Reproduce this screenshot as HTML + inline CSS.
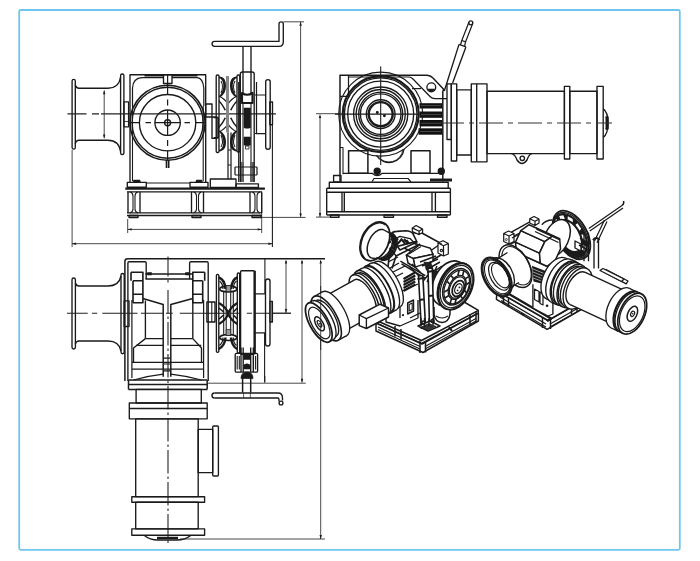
<!DOCTYPE html>
<html><head><meta charset="utf-8"><title>Winch drawing</title>
<style>
html,body{margin:0;padding:0;background:#fff;width:700px;height:561px;overflow:hidden;font-family:"Liberation Sans",sans-serif;}
svg{position:absolute;left:0;top:0;display:block;}
</style></head><body>
<svg width="700" height="561" viewBox="0 0 700 561">
<rect x="19.2" y="10" width="660.6" height="539.8" rx="1.5" fill="none" stroke="#70c6ef" stroke-width="1.8"/>
<g fill="none" stroke="#1a1a1a" stroke-width="1.35" stroke-linejoin="round" stroke-linecap="butt">

<!-- ============ VIEW A : front elevation ============ -->
<g id="A">
<!-- drum -->
<rect x="72.1" y="79.3" width="3.2" height="69.8" rx="1.6"/>
<rect x="120.6" y="74" width="3.3" height="80.5" rx="1.6"/>
<path d="M75.3,84.5 Q76,88.2 79,88.2 L108,88.2 Q119,88 120.6,77"/>
<path d="M75.3,144 Q76,140.2 79,140.2 L108,140.2 Q119,140.4 120.6,151.5"/>
<path d="M104.2,90.5 V138.2" stroke-width="0.80"/>
<rect x="123.9" y="101.9" width="4.7" height="24.9"/>
<path d="M123.9,121.5 H128.6" stroke-width="0.80"/>
<!-- gearbox housing -->
<path d="M130,182 V74.7 H205.7 V182"/>
<path d="M132.5,181 V106 M203.2,181 V106" stroke-width="1.08"/>
<path d="M132.5,106 V88 Q133,78 142,77.6 H163.5 M172,77.6 H197 Q203,78 203.8,88 V106" stroke-width="1.22"/>
<path d="M144.5,75.5 H163.5 M172,75.5 H197.5" stroke-width="2.16"/>
<rect x="163.5" y="74.7" width="8.5" height="8.8"/>
<circle cx="167.6" cy="122.7" r="37.5" stroke-width="1.62"/>
<circle cx="167.6" cy="122.7" r="35.5"/>
<circle cx="167.6" cy="122.7" r="28.2"/>
<circle cx="167.6" cy="122.7" r="12.7"/>
<circle cx="167.6" cy="122.7" r="3"/>
<path d="M130,122.7 H140 M145.5,122.7 H151 M155,122.7 H180.2 M184.5,122.7 H190 M195,122.7 H205.5 M167.6,75 V94.5 M167.6,99.5 V105.5 M167.6,110 V135 M167.6,140 V146 M167.6,150.5 V160" stroke-width="1.22"/>
<path d="M166.5,160 V168 M168.7,160 V168" stroke-width="1.62"/>
<!-- centerline -->
<path d="M67.5,113.9 H86.5 M92,113.9 H99 M101,113.9 H276" stroke="#222" stroke-width="1.08"/>
<!-- hub & flange -->
<rect x="205.7" y="104" width="6.3" height="13"/>
<rect x="212" y="117" width="5" height="21.4"/>
<!-- brake discs -->
<rect x="216.2" y="75" width="2.8" height="77.5" rx="1.2"/>
<rect x="237" y="75" width="2.8" height="77" rx="1.2"/>
<g fill="#1a1a1a" stroke="none">
<path d="M219,76.6 C224,77 226,80 226,86 C226,91 224,95 220,97.5 L219.5,96 C222,93 223.5,89 223.3,85 C223,81 221.5,78.5 219,78 Z"/>
<path d="M237,76.6 C232,77 230,80 230,86 C230,91 232,95 236,97.5 L236.5,96 C234,93 232.5,89 232.7,85 C233,81 234.5,78.5 237,78 Z"/>
<path d="M219,151.4 C224,151 226,148 226,142 C226,137 224,133 220,130.5 L219.5,132 C222,135 223.5,139 223.3,143 C223,147 221.5,149.5 219,150 Z"/>
<path d="M237,151.4 C232,151 230,148 230,142 C230,137 232,133 236,130.5 L236.5,132 C234,135 232.5,139 232.7,143 C233,147 234.5,149.5 237,150 Z"/>
<path d="M219,100 C222,103 224,106 226,110 L224.5,110.5 C223,107 221,104 219,102 Z"/>
<path d="M237,100 C234,103 232,106 230,110 L231.5,110.5 C233,107 235,104 237,102 Z"/>
<path d="M219,128 C222,125 224,122 226,118 L224.5,117.5 C223,121 221,124 219,126 Z"/>
<path d="M237,128 C234,125 232,122 230,118 L231.5,117.5 C233,121 235,124 237,126 Z"/>
</g>
<path d="M219,96 Q225,99 228,104 M237,96 Q231,99 228,104 M219,132 Q225,129 228,124 M237,132 Q231,129 228,124" stroke-width="1.22"/>
<path d="M221,81 Q224,86 221,93 M235,81 Q232,86 235,93 M221,135 Q224,142 221,147 M235,135 Q232,142 235,147" stroke-width="1.08"/>
<path d="M227.5,76 V132.4" stroke="#888" stroke-width="2.97"/>
<path d="M228,132.4 V179.2 M231,132.4 V179.2 M228,150 H231 M228,165 H231" stroke-width="1.22"/>
<path d="M213.7,117.7 H218.4 V137.7 H213.7" stroke-width="1.22"/>
<!-- bracket with shaft -->
<path d="M240.3,182 V74 Q240.3,72 242.5,72 H252 Q254.2,72 254.2,74 V182" />
<path d="M238.7,82 V182 M256.5,82 V133.7 H265.7" stroke-width="1.22"/>
<path d="M243,46 V93 M251,46 V93" />
<path d="M242,93 Q247,96.5 252.5,93 V103 H242 Z" stroke-width="2.16"/>
<path d="M243,103 V162 M251,103 V162" stroke-width="1.08"/>
<path d="M244,108 H250.5 V127.7 Q247,129 244,127.7 Z" fill="#1a1a1a" stroke-width="0.57"/>
<path d="M244,137 H250.5 V145 Q247,146.5 244,145 Z" fill="#1a1a1a" stroke-width="0.57"/>
<rect x="245.5" y="146" width="3.5" height="3" stroke-width="0.80"/>
<path d="M235,167 H257 M235,175 H257 M235,167 V175 M257,167 V175" stroke-width="1.22"/>
<path d="M241,162 V182 M243,162 V182 M251,162 V182 M253,162 V182" stroke-width="1.35"/>
<!-- crank handle -->
<path d="M214.5,41.4 H279 V24 A2.15,2.15 0 0 1 283.3,24 V42 Q283.3,46.3 279,46.3 H214.5 A2.45,2.45 0 0 1 214.5,41.4 Z"/>
<!-- right disc -->
<rect x="265.7" y="79.6" width="4.5" height="69.6" rx="2.2"/>
<rect x="269.8" y="102" width="2.7" height="22.7"/>
<path d="M255,95 H265.7 M255,133.5 H265.7" stroke-width="1.08"/>
<path d="M272.4,125 V247" stroke-width="1.08"/>
<!-- base -->
<path d="M132.5,182.4 L133.5,179.8 H140 L141,182.4 Z M195.3,182.4 L196.3,179.8 H202 L203,182.4 Z" fill="#1a1a1a" stroke="none"/>
<rect x="127.3" y="182.4" width="19" height="4.9"/>
<path d="M146.3,183 H190" stroke-width="1.08"/>
<rect x="190" y="182.4" width="18" height="4.9"/>
<rect x="210.3" y="179" width="25.7" height="8.5"/>
<rect x="236" y="183.8" width="22.4" height="3.7"/>
<path d="M125.3,188.6 H264.9" stroke-width="2.43"/>
<path d="M127,191.8 H262" stroke-width="1.35"/>
<path d="M127,212.9 H262 M127,215.5 H262" stroke-width="1.35"/>
<path d="M128,191.8 V212.9 M140,191.8 V212.9 M191.5,191.8 V212.9 M203.5,191.8 V212.9 M250,191.8 V212.9 M261.7,191.8 V212.9" stroke-width="1.35"/>
<path d="M130,191.8 Q133,193 133,196 V209 Q133,212 130,212.9 M138,191.8 Q135,193 135,196 V209 Q135,212 138,212.9" stroke-width="1.08"/>
<path d="M193.5,191.8 Q196.5,193 196.5,196 V209 Q196.5,212 193.5,212.9 M201.5,191.8 Q198.5,193 198.5,196 V209 Q198.5,212 201.5,212.9" stroke-width="1.08"/>
<path d="M252,191.8 Q255,193 255,196 V209 Q255,212 252,212.9 M260,191.8 Q257,193 257,196 V209 Q257,212 260,212.9" stroke-width="1.08"/>
<rect x="129" y="215.5" width="9" height="2"/><rect x="192" y="215.5" width="9" height="2"/><rect x="252" y="215.5" width="9" height="2"/>
<!-- dims -->
<g stroke-width="0.80">
<path d="M72.1,150 V247"/>
<path d="M127.7,219 V233"/>
<path d="M261.7,193 V233"/>
<path d="M127.7,229.4 H261.7"/>
<path d="M72.1,243.7 H272.4"/>
<path d="M283.3,21.8 H304"/>
<path d="M300.6,21.8 V216.5"/>
<path d="M252,217.4 H305.5"/>
</g>
<g fill="#1a1a1a" stroke="none">
<path d="M127.7,229.4 l4,-1.2 v2.4z M261.7,229.4 l-4,-1.2 v2.4z"/>
<path d="M72.1,243.7 l4,-1.2 v2.4z M272.4,243.7 l-4,-1.2 v2.4z"/>
<path d="M300.6,21.8 l-1.2,4 h2.4z M300.6,217.4 l-1.2,-4 h2.4z"/>
<path d="M104.2,90.3 l-1.2,4 h2.4z M104.2,138.4 l-1.2,-4 h2.4z"/>
</g>
</g>

<!-- ============ VIEW B : side elevation ============ -->
<g id="B">
<!-- housing -->
<path d="M340,181 V75.2 H427 Q430.5,75.2 433,78 L443.6,89.2 L442.8,91.4 V181.2" stroke-width="1.49"/>
<path d="M348.5,75.2 V96.3 H340" stroke-width="1.22"/>
<path d="M348.5,77 H409 Q411,77 413,79 L430,96.5 Q432,98.7 435,98.7 H447" stroke-width="1.22"/>
<path d="M412,88.6 H421" stroke-width="1.22"/>
<circle cx="431.3" cy="87.3" r="4.4"/>
<path d="M427.3,88.8 A4.4,4.4 0 0 0 435.3,88.8 Z" fill="#1a1a1a" stroke="none"/>
<!-- concentric circles -->
<circle cx="380.7" cy="114.1" r="42" stroke-width="1.08"/>
<circle cx="380.7" cy="114.1" r="38" stroke-width="2.16"/>
<circle cx="380.7" cy="114.1" r="36.3"/>
<circle cx="380.7" cy="114.1" r="33"/>
<circle cx="380.7" cy="114.1" r="27.1"/>
<circle cx="380.7" cy="114.1" r="24.6"/>
<circle cx="380.7" cy="114.1" r="22"/>
<circle cx="380.7" cy="114.1" r="20.3"/>
<circle cx="380.7" cy="114.1" r="14.4"/>
<circle cx="380.7" cy="114.1" r="12" stroke-width="2.43"/>
<circle cx="377.3" cy="112.4" r="0.8" fill="#1a1a1a"/>
<circle cx="384.4" cy="115.8" r="0.8" fill="#1a1a1a"/>
<path d="M380.7,66.5 V165 M335,114.1 H418" stroke-width="1.08"/>
<!-- fins -->
<g fill="#111" stroke="none">
<rect x="419.5" y="103.2" width="22.5" height="5.3"/>
<rect x="419.5" y="111.5" width="22.5" height="6.3"/>
<rect x="419.5" y="120" width="22.5" height="6.4"/>
<rect x="418.5" y="128.3" width="23.5" height="6.4"/>
</g>
<path d="M421,105.6 H441 M421,114.6 H441 M421,123.2 H441 M420,131.5 H441" stroke="#555" stroke-width="0.80"/>
<!-- lower housing -->
<path d="M340,147.5 H343 V174.3" stroke-width="1.08"/>
<rect x="348.6" y="150.7" width="19.3" height="22.5" stroke-width="1.49"/>
<rect x="411" y="150.7" width="19" height="22.5" stroke-width="1.49"/>
<path d="M376.4,155.5 A15,15 0 0 0 404,149" stroke-width="1.35"/>
<path d="M377.6,155.9 A13.8,13.8 0 0 0 402.8,149.3" stroke-width="0.80"/>
<circle cx="377.2" cy="171.2" r="3" fill="#1a1a1a"/>
<circle cx="441.3" cy="171.2" r="3" fill="#1a1a1a"/>
<path d="M343,173.4 H372.5 Q377.2,177.5 382,173.4 H442.8" stroke-width="1.35"/>
<path d="M372,181.8 L374,178.5 H408 L411,181.8" stroke-width="1.22"/>
<rect x="333.6" y="175.5" width="7.4" height="6.3"/>
<path d="M430,180 H452" stroke-width="2.97"/>
<!-- base -->
<path d="M329.3,188.2 V182.2 H448.2 V188.2" stroke-width="1.35"/>
<path d="M326.7,188.2 H450.4 M326.7,192.3 H450.4 M326.7,211.8 H450.4 M326.7,215 H450.4" stroke-width="1.49"/>
<path d="M326.7,188.2 V215 M450.4,188.2 V215" stroke-width="1.35"/>
<path d="M342,192.3 V211.8 M344.3,192.3 V211.8 M432,192.3 V211.8 M435.4,192.3 V211.8" stroke-width="1.35"/>
<rect x="330.5" y="215" width="8.5" height="2.2"/>
<rect x="384" y="215" width="9.5" height="2.2"/>
<rect x="437.5" y="215" width="9.5" height="2.2"/>
<!-- motor -->
<rect x="447" y="83.9" width="4.3" height="55.6"/>
<rect x="451.3" y="83.9" width="5.4" height="77.1"/>
<rect x="456.7" y="89.9" width="14.6" height="65.1"/>
<rect x="471.3" y="83.9" width="15.7" height="77.9"/>
<path d="M476.7,83.9 V161.8"/>
<rect x="487" y="91.2" width="77.4" height="62.4"/>
<rect x="564.4" y="86.3" width="5.4" height="72.7"/>
<rect x="569.8" y="91.2" width="27.2" height="62.4"/>
<rect x="597" y="86.3" width="6.2" height="72.7"/>
<path d="M603.2,108.9 Q608,112 608,123 Q608,134 603.2,137.4" />
<path d="M605.5,117 H608 V129 H605.5" fill="#1a1a1a"/>
<path d="M511.4,153.6 Q515,154 517,160 Q522,167 527,160 Q529,154 531.8,153.6"/>
<circle cx="522.3" cy="158.3" r="2.2"/>
<path d="M440,123 H612" stroke-dasharray="24,5,5,5" stroke="#333" stroke-width="1.08"/>
<!-- lever -->
<path d="M444.3,91 L459,44.4 M452.6,83.1 L465.9,46.9 M459,44.4 L465.9,46.9" stroke-width="1.35"/>
<path d="M460.5,44.8 L461.8,40.5 L465.6,41.8 L464.6,46" stroke-width="1.22"/>
<path d="M461.8,40.5 L468.8,22.5 M465.6,41.8 L472.6,23.8" stroke-width="1.22"/>
<circle cx="470.8" cy="22.8" r="2"/>
<!-- dims -->
<g stroke-width="0.80">
<path d="M320,116 V217"/>
<path d="M316,113.7 H340"/>
<path d="M316,217.1 H330"/>
</g>
<g fill="#1a1a1a" stroke="none">
<path d="M320,113.9 l-1.2,4 h2.4z M320,217 l-1.2,-4 h2.4z"/>
</g>
</g>

<!-- ============ VIEW C : plan ============ -->
<g id="C">
<!-- drum -->
<rect x="72" y="278" width="3.4" height="71" rx="1.7"/>
<rect x="121" y="273.5" width="3.2" height="80.2" rx="1.6"/>
<path d="M75.4,283 Q76,286 79,286 L108,286 Q119,286 121,276"/>
<path d="M75.4,344 Q76,341 79,341 L108,341 Q119,341 121,351"/>
<rect x="124.2" y="300.8" width="4.8" height="25.7"/>
<!-- frame outer -->
<path d="M124.9,381 V261.5 Q124.9,258.8 127.6,258.8 H325" stroke-width="1.49"/>
<path d="M127.9,381 V263 Q127.9,261.7 129.2,261.7 H145 Q146.2,261.7 146.2,263 V279" stroke-width="1.35"/>
<path d="M208.2,381 V263 Q208.2,261.7 206.9,261.7 H190.9 Q189.6,261.7 189.6,263 V279" stroke-width="1.35"/>
<path d="M145.4,274 H192.8 M145.4,279 H192.8" stroke-width="1.35"/>
<rect x="147.5" y="272.5" width="4" height="2.5" fill="#1a1a1a" stroke-width="0.57"/>
<rect x="185.5" y="272.5" width="4" height="2.5" fill="#1a1a1a" stroke-width="0.57"/>
<!-- side blocks -->
<path d="M131,272.3 H142.9 V302.8 H133 M133,280.8 H142.9 M133,294.3 H142.9 M133,295.2 V302.8 M131,272.3 V280.8 M133,280.8 V302.8" stroke-width="1.62"/>
<path d="M204.7,272.3 H192.8 V302.8 H202.7 M202.7,280.8 H192.8 M202.7,294.3 H192.8 M202.7,280.8 V302.8 M204.7,272.3 V280.8" stroke-width="1.62"/>
<path d="M131.9,300 V378" stroke-width="1.22"/>
<path d="M203.6,300 V378" stroke-width="1.22"/>
<!-- funnel and shaft -->
<path d="M142.9,298.5 L163.2,304.5 V376.7 M192.8,298.5 L170.8,304.5 V376.7" stroke-width="1.49"/>
<path d="M145.4,300.5 V338.6 M192.8,300.5 V338.6" stroke-width="1.35"/>
<path d="M163.2,358.1 H170.8 M163.2,364 H170.8 M163.2,370.8 H170.8" stroke-width="1.22"/>
<path d="M145.4,338.6 H163.2 M170.8,338.6 H192.8" stroke-width="1.35"/>
<path d="M145.4,338.6 L133.5,348 V362.3 M192.8,338.6 L201.5,348 V362.3" stroke-width="1.35"/>
<path d="M136.1,345.4 H163.2 M170.8,345.4 H201.3" stroke-width="1.22"/>
<path d="M132,362.3 H204 M132,369.1 H204" stroke-width="1.22"/>
<path d="M133.5,380 Q148,376 163.2,374.2 M170.8,374.2 Q186,376 201.5,380" stroke-width="1.22"/>
<path d="M128.5,380.1 H207.2 M128.5,384.4 H207.2 M128.5,389.4 H207.2 M128.5,380.1 V389.4 M207.2,380.1 V389.4" stroke-width="1.49"/>
<path d="M168,256.5 V276.4 M168,280 V282.5" stroke="#222" stroke-width="1.08"/><path d="M168,290 V544" stroke-dasharray="23.6,3,2.4,3" stroke="#222" stroke-width="1.08"/>
<path d="M67,313.2 H87.7 M92,313.2 H97.2 M102.3,313.2 H137.5 M141,313.2 H163.2 M166,313.2 H172.7 M179.8,313.2 H241 M246.8,313.2 H252 M254,313.2 H291" stroke="#222" stroke-width="1.08"/>
<!-- right hub + sheaves -->
<rect x="206.9" y="302" width="8.1" height="20"/>
<path d="M211.8,302 V322" stroke-width="1.08"/>
<rect x="216.4" y="274.4" width="2.4" height="78" rx="1.1"/>
<rect x="237.3" y="273" width="2.4" height="80" rx="1.1"/>
<path d="M218.8,277.5 C223,279 225,283 225.5,289 M237.3,277.5 C233,279 231.5,283 231,289 M218.8,349 C223,347 225,343 225.5,337.5 M237.3,349 C233,347 231.5,343 231,337.5" stroke-width="2.43"/>
<path d="M219.5,281 C222,283 223,286 223,289 M236.5,281 C234,283 233.3,286 233.3,289 M219.5,345.5 C222,343.5 223,340.5 223,337.5 M236.5,345.5 C234,343.5 233.3,340.5 233.3,337.5" stroke-width="1.22"/>
<ellipse cx="228.3" cy="289" rx="8.6" ry="3" stroke-width="1.62"/>
<ellipse cx="228.3" cy="337.5" rx="8.6" ry="3" stroke-width="1.62"/>
<path d="M223.7,292 V334.5 M233.3,292 V334.5" stroke-width="1.08"/>
<path d="M219,303 C224,306 227,309 228.3,313.5 C227,318 224,321 219,324 M237.3,303 C232.5,306 229.5,309 228.3,313.5 C229.5,318 232.5,321 237.3,324" stroke-width="2.16"/>
<path d="M219,308 L223.7,312 M219,319 L223.7,315 M237.3,308 L233.3,312 M237.3,319 L233.3,315" stroke-width="1.62"/>
<rect x="226.2" y="285.5" width="4.5" height="50" stroke-width="1.08"/>
<rect x="226.2" y="285.5" width="4.5" height="6" fill="#999" stroke-width="0.69"/>
<rect x="226.2" y="329.5" width="4.5" height="6" fill="#999" stroke-width="0.69"/>
<rect x="240.6" y="270.7" width="13.7" height="83.5" rx="1"/>
<path d="M254.8,270.7 V354.2" stroke-width="2.16"/>
<path d="M255,293.8 H264.9 M255,332.8 H264.9" stroke-width="1.22"/>
<path d="M264.9,258.8 V293.8 M264.6,332.8 V382.4" stroke-width="1.08"/>
<rect x="265.5" y="279" width="4.5" height="67" rx="2.2"/>
<rect x="270" y="301.3" width="2.4" height="20.7" fill="#999"/>
<!-- lower bracket -->
<rect x="235.2" y="353.4" width="22.4" height="18.7" rx="1.2"/>
<path d="M237.2,356 V369.5 M239.3,356 V369.5 M253.5,356 V369.5 M255.6,356 V369.5" stroke-width="1.08"/>
<path d="M241,347.5 V372 M243.2,347.5 V372 M250.7,347.5 V372 M253.3,347.5 V372" stroke-width="1.35"/>
<path d="M243.7,355 H250.2 V359.5 H243.7 Z" fill="#1a1a1a" stroke-width="0.57"/>
<path d="M243.7,365 Q247,362.5 250.2,365 V369 H243.7 Z" fill="#1a1a1a" stroke-width="0.57"/>
<path d="M241,378.5 Q241,372 247,372 Q253,372 253,378.5 Z" fill="#1a1a1a" stroke-width="0.69"/>
<path d="M242.6,376 V392.5 M250.7,376 V392.5" stroke-width="1.49"/>
<!-- handle -->
<path d="M214.5,393 H278 Q282.5,393 282.5,398 V400.5 M214.5,398 H278 Q279,398 279,400.5 V401.5" stroke-width="1.35"/>
<path d="M214.5,393 A2.5,2.5 0 0 0 214.5,398"/>
<circle cx="281" cy="403" r="1.9"/>
<path d="M243.6,393 V398 M250.3,393 V398" stroke-width="0.69"/>
<!-- motor -->
<rect x="136.1" y="389.4" width="65.2" height="13.6"/>
<rect x="129.3" y="403" width="77.9" height="15.8"/>
<path d="M129.3,408.5 H207.2"/>
<rect x="135.7" y="418.8" width="62.5" height="77.9"/>
<rect x="198.2" y="429.4" width="14.5" height="43.3"/>
<rect x="212.7" y="426" width="5.7" height="50" rx="1"/>
<rect x="131.8" y="496.7" width="72.8" height="5.5"/>
<rect x="135.7" y="502.2" width="62.5" height="26.6"/>
<rect x="131.8" y="528.8" width="72.8" height="6.4"/>
<path d="M144,535.2 Q150,540 158,540 H177 Q185,540 191,535.2" />
<path d="M157,538 H178" stroke-width="2.43"/>
<!-- dims -->
<g stroke-width="0.80">
<path d="M286,261 V313"/>
<path d="M272,313.2 H291"/>
<path d="M302,261 V382.4"/>
<path d="M207.4,383.2 H305.8"/>
<path d="M320.7,261 V539"/>
<path d="M180,539 H325"/>
<path d="M264.9,382.4 V376" />
</g>
<g fill="#1a1a1a" stroke="none">
<path d="M286,259.6 l-1.2,4 h2.4z M286,313 l-1.2,-4 h2.4z"/>
<path d="M302,259.6 l-1.2,4 h2.4z M302,382.8 l-1.2,-4 h2.4z"/>
<path d="M320.7,259.6 l-1.2,4 h2.4z M320.7,539 l-1.2,-4 h2.4z"/>
</g>
</g>

<!--ISO1-->
<path d="M376,323 L422,344 L478.4,313 L478.4,321 L423,352.5 L376,331 Z" fill="#fff" stroke-width="1.49"/>
<path d="M372,318.5 L421.5,340.5 L478.4,310.4 L465,302.5 L430,290 Z" fill="#fff" stroke-width="1.49"/>
<path d="M372,318.5 V321 L421.5,343.2 L478.4,313 V310.4" fill="none" stroke-width="1.22"/>
<path d="M378,327 L420,346.5 M378,329.5 L420,349 M425,346.5 L476,318.5 M425,349 L476,321" stroke-width="1.08"/>
<path d="M395,326 V336.5 M401,329 V339.5 M420,340.5 V353 M425.5,342 V352.5 M470,314 V325 M476,311 V322" stroke-width="1.49"/>
<path d="M449,327 L452,331" stroke-width="2.03"/>
<path d="M386,322 V262 L392.7,232.6 L412.2,226.2 L421.5,229.9 L446.6,244.7 L448.4,255 L447,300 L425,318 L400,325 Z" fill="#fff" stroke="none"/>
<path d="M404,238.5 L412.5,233 L421,232.5 L441,243.5 L431,250.5 Z" fill="#fff" stroke-width="1.49"/>
<path d="M404,238.5 V248 L431,261 V250.5 M431,261 L441,255 V243.5" fill="#fff" stroke-width="1.49"/>
<path d="M407,240 L430,251.5" stroke-width="1.08"/>
<path d="M412.3,227.9 L416.1,225.5 L422.6,229.1 V232.5 L419.1,234.6 L412.3,231.5 Z M412.3,227.9 L419.1,231.3 L422.6,229.1 M419.1,231.3 V234.6" stroke-width="1.22" fill="#fff"/>
<path d="M438,243 L443,240.7 L448.3,243.5 V254 L443.5,256 L438,253 Z M438,243 L443.5,245.8 L448.3,243.5 M443.5,245.8 V256" stroke-width="1.22" fill="#fff"/>
<circle cx="441.4" cy="250.6" r="1.2" stroke-width="1.08"/>
<path d="M406.4,255.1 L419.3,244.9 L430.4,248.3 L433,254.3 L413.3,258.6 Z" fill="#fff" stroke-width="1.49"/>
<path d="M413.3,258.6 L415,267.1 L433,261.1 V254.3 Z" fill="#fff" stroke-width="1.49"/>
<path d="M406.4,255.1 L408,263 L415,267.1 L413.3,258.6 Z" fill="#fff" stroke-width="1.49"/>
<path d="M409,254 L421,246.5" stroke-width="1.08"/>
<path d="M403.5,279 L415,272.5 M403.5,282 L415.3,275.5 M403.5,285 L415.3,278.5 M403.5,288 L415.3,281.5 M403.5,291 L415.3,284.5" stroke-width="2.03"/>
<path d="M420,262 L436,256 M422,266 L438,259 M426,270 L440,262 M429,275 L442,266 M431,279 L437,266 M427,282 L434,270 M420,285 L428,275" stroke-width="1.49"/>
<path d="M424,262 L431,263 L433,270 L426,269 Z M434,270 L440,272 L438,280 L432,278 Z" fill="#222" stroke-width="0.69"/>
<path d="M386,290 V322 L400,326 L418,318 V300" fill="#fff" stroke-width="1.35"/>
<path d="M407.7,303 L413.5,300 V311 L407.7,314 Z" stroke-width="1.49"/>
<path d="M409.2,304.5 L412.2,303 V309.5 L409.2,311 Z" stroke-width="1.08"/>
<path d="M400,296 V318 M402,291 L418,284" stroke-width="1.35"/>
<circle cx="403" cy="315.2" r="1.1" fill="#1a1a1a" stroke="none"/>
<path d="M410,318 L420,313" stroke-width="1.35"/>
<path d="M434,307 V314 Q435,322 442,322.5 Q449,322 450,314 V309" fill="#fff" stroke-width="1.49"/>
<path d="M436,316 Q442,320 448,316" stroke-width="1.08"/>
<ellipse cx="448.7" cy="283.1" rx="15.0" ry="23.5" transform="rotate(205 448.7 283.1)" fill="#fff" stroke-width="1.62" />
<path d="M464.8,264.7 L458.7,261.8 L438.8,304.4 L445.0,307.3 Z" fill="#fff" stroke="none"/>
<path d="M464.8,264.7 L458.7,261.8 M438.8,304.4 L445.0,307.3" stroke-width="1.62"/>
<ellipse cx="454.9" cy="286.0" rx="15.0" ry="23.5" transform="rotate(205 454.9 286.0)" fill="#fff" stroke-width="1.49" />
<ellipse cx="454.9" cy="286.0" rx="15.7" ry="24.5" transform="rotate(205 454.9 286.0)" fill="#fff" stroke-width="1.62" />
<path d="M466.4,264.3 L465.3,263.8 L444.6,308.2 L445.6,308.7 Z" fill="#fff" stroke="none"/>
<path d="M466.4,264.3 L465.3,263.8 M444.6,308.2 L445.6,308.7" stroke-width="1.62"/>
<ellipse cx="456.0" cy="286.5" rx="15.7" ry="24.5" transform="rotate(205 456.0 286.5)" fill="#fff" stroke-width="1.89" />
<ellipse cx="456.2" cy="286.6" rx="14.3" ry="22.3" transform="rotate(25 456.2 286.6)" stroke-width="1.22" fill="none"/>
<ellipse cx="456.5" cy="286.8" rx="12.4" ry="19.3" transform="rotate(25 456.5 286.8)" stroke-width="1.49" fill="none"/>
<ellipse cx="456.7" cy="287.0" rx="11.4" ry="17.8" transform="rotate(25 456.7 287.0)" stroke-width="1.22" fill="none"/>
<ellipse cx="457.2" cy="287.4" rx="8.1" ry="12.6" transform="rotate(25 457.2 287.4)" stroke-width="1.35" fill="none"/>
<ellipse cx="457.4" cy="287.5" rx="7.2" ry="11.3" transform="rotate(25 457.4 287.5)" stroke-width="1.22" fill="none"/>
<path d="M464.4,290.4 L466.8,293.0 M462.9,298.7 L460.5,296.0" stroke-width="1.62"/>
<path d="M456.2,298.7 L454.9,303.8 M450.1,303.6 L451.5,298.6" stroke-width="1.62"/>
<path d="M448.8,295.5 L445.0,298.0 M444.2,292.1 L448.0,289.7" stroke-width="1.62"/>
<path d="M449.6,284.0 L447.2,281.4 M451.1,275.7 L453.5,278.4" stroke-width="1.62"/>
<path d="M457.8,275.7 L459.1,270.6 M463.9,270.8 L462.5,275.8" stroke-width="1.62"/>
<path d="M465.2,278.9 L469.0,276.4 M469.8,282.3 L466.0,284.7" stroke-width="1.62"/>
<ellipse cx="458.2" cy="288.5" rx="5.4" ry="8.4" transform="rotate(25 458.2 288.5)" stroke-width="1.76" fill="#fff"/>
<ellipse cx="458.4" cy="288.7" rx="3.3" ry="5.2" transform="rotate(25 458.4 288.7)" stroke-width="1.35" fill="none"/>
<circle cx="459.4" cy="287.4" r="0.9" fill="#1a1a1a" stroke="none"/><circle cx="457.6" cy="290.4" r="0.9" fill="#1a1a1a" stroke="none"/>
<path d="M377,226 L396,231 L400,258 L385,264 Z" fill="#fff" stroke="none"/>
<path d="M390.7,235 Q392,231.4 397,231.4 L405.7,230.7 Q411,231 412.9,233.6 L417,242 L400,250 L392.9,240 Z" fill="#fff" stroke-width="1.62"/>
<path d="M392.9,240 L400,236.4 L410,238.6 L415,243.6" stroke-width="1.35"/>
<path d="M394,243 L398,238.5 M397,244.5 L402,239 M401,238.5 L405,244 M404,239 L408,244 M406.5,240 L409,243.5" stroke-width="2.03"/>
<ellipse cx="374.9" cy="241.4" rx="13.5" ry="20.4" transform="rotate(25 374.9 241.4)" fill="#fff" stroke-width="1.76" />
<path d="M364.8,257.9 L363.6,256.7 L362.6,255.2 L361.8,253.4 L361.2,251.5 L360.9,249.4 L360.8,247.2 L361.0,244.8 L361.4,242.4 L362.0,240.0 L362.8,237.6 L363.9,235.3 L365.1,233.1 L366.5,231.0 L368.0,229.1 L369.7,227.4 L371.4,226.0 L373.3,224.8 L375.1,223.9 L376.9,223.3 L378.7,223.0 L380.5,223.0 L382.1,223.3 L383.6,224.0 L385.0,224.9" fill="none" stroke-width="1.22" />
<path d="M371.4,258.0 L370.4,257.4 L369.5,256.6 L368.7,255.6 L368.1,254.4 L367.6,253.0 L367.3,251.5 L367.2,249.9 L367.2,248.2 L367.4,246.4 L367.8,244.6 L368.3,242.8 L369.0,241.0 L369.8,239.2 L370.7,237.5 L371.8,235.9 L372.9,234.5 L374.1,233.2 L375.4,232.0 L376.8,231.1 L378.1,230.3 L379.5,229.8 L380.8,229.5 L382.1,229.4 L383.3,229.5" fill="none" stroke-width="1.49" />
<path d="M388.1,232.2 L389.2,232.7 L390.1,233.5 L390.9,234.5 L391.6,235.7 L392.1,237.0 L392.4,238.5 L392.6,240.1 L392.5,241.8 L392.3,243.5 L391.9,245.3 L391.4,247.1 L390.7,248.8 L389.8,250.5 L388.8,252.0 L387.7,253.5 L386.5,254.7 L385.2,255.9 L383.9,256.8 L382.6,257.5 L381.2,258.0 L379.9,258.2 L378.6,258.2 L377.4,258.0 L376.3,257.5" fill="none" stroke-width="1.62" />
<path d="M389.2,232.7 L390.3,233.2 L391.2,234.0 L392.0,235.0 L392.7,236.2 L393.2,237.5 L393.5,239.0 L393.7,240.6 L393.6,242.3 L393.4,244.0 L393.0,245.8 L392.5,247.6 L391.8,249.3 L390.9,251.0 L389.9,252.5 L388.8,254.0 L387.6,255.2 L386.3,256.4 L385.0,257.3 L383.7,258.0 L382.3,258.5 L381.0,258.7 L379.7,258.7 L378.5,258.5 L377.4,258.0" fill="none" stroke-width="1.35" />
<path d="M390.3,233.2 L391.4,233.7 L392.3,234.5 L393.1,235.5 L393.8,236.7 L394.3,238.0 L394.6,239.5 L394.8,241.1 L394.7,242.8 L394.5,244.5 L394.1,246.3 L393.6,248.1 L392.9,249.8 L392.0,251.5 L391.0,253.0 L389.9,254.5 L388.7,255.7 L387.4,256.9 L386.1,257.8 L384.8,258.5 L383.4,259.0 L382.1,259.2 L380.8,259.2 L379.6,259.0 L378.5,258.5" fill="none" stroke-width="1.62" />
<path d="M391.4,233.7 L392.5,234.2 L393.4,235.0 L394.2,236.0 L394.9,237.2 L395.4,238.5 L395.7,240.0 L395.9,241.6 L395.8,243.3 L395.6,245.0 L395.2,246.8 L394.7,248.6 L394.0,250.3 L393.1,252.0 L392.1,253.5 L391.0,255.0 L389.8,256.2 L388.5,257.4 L387.2,258.3 L385.9,259.0 L384.5,259.5 L383.2,259.7 L381.9,259.7 L380.7,259.5 L379.6,259.0" fill="none" stroke-width="1.35" />
<path d="M392.5,234.2 L393.6,234.7 L394.5,235.5 L395.3,236.5 L396.0,237.7 L396.5,239.0 L396.8,240.5 L397.0,242.1 L396.9,243.8 L396.7,245.5 L396.3,247.3 L395.8,249.1 L395.1,250.8 L394.2,252.5 L393.2,254.0 L392.1,255.5 L390.9,256.7 L389.6,257.9 L388.3,258.8 L387.0,259.5 L385.6,260.0 L384.3,260.2 L383.0,260.2 L381.8,260.0 L380.7,259.5" fill="none" stroke-width="1.76" />
<path d="M383,229.5 L388.4,232.3 M371.4,258 L377,258.6" stroke-width="1.35"/>
<path d="M389,236.5 L394,234 M390.5,240 L395,237.5 M388,243 L391,241.5" stroke-width="2.03"/>
<path d="M388,267 L390.1,248.3 L416.7,241.4 M392,268.5 L396.1,256 L420.1,244" stroke-width="1.62"/>
<path d="M390.1,248.3 L396.1,256" stroke-width="1.35"/>
<path d="M400.4,261.1 L425.3,275.7 M401.5,263.8 L425.5,278.3" stroke-width="1.49"/>
<path d="M388,262 L398,257 M386.5,270 L399,263 M393,272 L405,266 M395,277 L403,273" stroke-width="1.35"/>
<path d="M418.5,276 L422.8,275.3 L425.6,327.5 L421.3,328.2 Z" fill="#fff" stroke-width="1.62"/>
<path d="M428,268.5 L432.3,268 L433.8,325 L429.5,325.5 Z" fill="#fff" stroke-width="1.62"/>
<path d="M417.5,279 L423.5,278 M427,272 L433,271 M419.5,300 L424,299.3 M428.8,296 L433,295.5" stroke-width="2.16"/>
<path d="M409,266 L419,276 M412,264 L421,273" stroke-width="1.49"/>
<path d="M418,326 L430,321 L440,326 L428,331 Z" fill="#fff" stroke-width="1.49"/>
<path d="M421,327 L429,323.5 L436,326.5 L428,330 Z" fill="#333" stroke-width="0.69"/>
<circle cx="423.5" cy="322.5" r="1.5" stroke-width="1.35"/><circle cx="432.5" cy="321" r="1.5" stroke-width="1.35"/>
<path d="M421,318 V326 M424.5,318 V327 M429,318 V326 M433,318 V325" stroke-width="1.35"/>
<ellipse cx="387.9" cy="284.2" rx="10.7" ry="25.5" transform="rotate(-29 387.9 284.2)" fill="#fff" stroke-width="1.35" />
<path d="M395.9,308.9 L400.3,306.5 L375.5,261.9 L371.2,264.3 Z" fill="#fff" stroke="none"/>
<path d="M395.9,308.9 L400.3,306.5 M375.5,261.9 L371.2,264.3" stroke-width="1.35"/>
<ellipse cx="383.5" cy="286.6" rx="10.7" ry="25.5" transform="rotate(-29 383.5 286.6)" fill="#fff" stroke-width="1.35" />
<ellipse cx="383.5" cy="286.6" rx="11.1" ry="26.5" transform="rotate(-29 383.5 286.6)" fill="#fff" stroke-width="1.35" />
<path d="M391.1,312.7 L396.4,309.8 L370.7,263.4 L365.4,266.4 Z" fill="#fff" stroke="none"/>
<path d="M391.1,312.7 L396.4,309.8 M370.7,263.4 L365.4,266.4" stroke-width="1.35"/>
<ellipse cx="378.3" cy="289.5" rx="11.1" ry="26.5" transform="rotate(-29 378.3 289.5)" fill="#fff" stroke-width="1.62" />
<ellipse cx="378.3" cy="289.5" rx="10.7" ry="25.5" transform="rotate(-29 378.3 289.5)" fill="#fff" stroke-width="1.35" />
<path d="M387.1,313.8 L390.6,311.8 L365.9,267.2 L362.4,269.2 Z" fill="#fff" stroke="none"/>
<path d="M387.1,313.8 L390.6,311.8 M365.9,267.2 L362.4,269.2" stroke-width="1.35"/>
<ellipse cx="374.8" cy="291.5" rx="10.7" ry="25.5" transform="rotate(-29 374.8 291.5)" fill="#fff" stroke-width="1.35" />
<ellipse cx="374.8" cy="291.5" rx="11.1" ry="26.5" transform="rotate(-29 374.8 291.5)" fill="#fff" stroke-width="1.35" />
<path d="M382.4,317.6 L387.6,314.6 L361.9,268.3 L356.7,271.2 Z" fill="#fff" stroke="none"/>
<path d="M382.4,317.6 L387.6,314.6 M361.9,268.3 L356.7,271.2" stroke-width="1.35"/>
<ellipse cx="369.5" cy="294.4" rx="11.1" ry="26.5" transform="rotate(-29 369.5 294.4)" fill="#fff" stroke-width="1.62" />
<ellipse cx="369.5" cy="294.4" rx="10.1" ry="24.0" transform="rotate(-29 369.5 294.4)" fill="#fff" stroke-width="1.35" />
<path d="M378.5,316.8 L381.2,315.4 L357.9,273.4 L355.3,274.8 Z" fill="#fff" stroke="none"/>
<path d="M378.5,316.8 L381.2,315.4 M357.9,273.4 L355.3,274.8" stroke-width="1.35"/>
<ellipse cx="366.9" cy="295.8" rx="10.1" ry="24.0" transform="rotate(-29 366.9 295.8)" fill="#fff" stroke-width="1.35" />
<ellipse cx="366.9" cy="295.8" rx="10.5" ry="25.0" transform="rotate(-29 366.9 295.8)" fill="#fff" stroke-width="1.35" />
<path d="M376.4,319.2 L379.0,317.7 L354.8,274.0 L352.2,275.4 Z" fill="#fff" stroke="none"/>
<path d="M376.4,319.2 L379.0,317.7 M354.8,274.0 L352.2,275.4" stroke-width="1.35"/>
<ellipse cx="364.3" cy="297.3" rx="10.5" ry="25.0" transform="rotate(-29 364.3 297.3)" fill="#fff" stroke-width="1.49" />
<ellipse cx="364.3" cy="297.3" rx="8.4" ry="20.0" transform="rotate(-29 364.3 297.3)" fill="#fff" stroke-width="1.35" />
<path d="M344.2,331.3 L374.0,314.8 L354.6,279.8 L324.8,296.3 Z" fill="#fff" stroke="none"/>
<path d="M344.2,331.3 L374.0,314.8 M354.6,279.8 L324.8,296.3" stroke-width="1.35"/>
<ellipse cx="334.5" cy="313.8" rx="8.4" ry="20.0" transform="rotate(-29 334.5 313.8)" fill="#fff" stroke-width="1.35" />
<ellipse cx="334.5" cy="313.8" rx="10.5" ry="25.0" transform="rotate(-29 334.5 313.8)" fill="#fff" stroke-width="1.35" />
<path d="M338.4,340.2 L346.7,335.6 L322.4,291.9 L314.1,296.5 Z" fill="#fff" stroke="none"/>
<path d="M338.4,340.2 L346.7,335.6 M322.4,291.9 L314.1,296.5" stroke-width="1.35"/>
<ellipse cx="326.2" cy="318.4" rx="10.5" ry="25.0" transform="rotate(-29 326.2 318.4)" fill="#fff" stroke-width="1.62" />
<ellipse cx="326.2" cy="318.4" rx="8.6" ry="20.5" transform="rotate(-29 326.2 318.4)" fill="#fff" stroke-width="1.35" />
<path d="M332.7,338.2 L336.2,336.3 L316.3,300.4 L312.8,302.4 Z" fill="#fff" stroke="none"/>
<path d="M332.7,338.2 L336.2,336.3 M316.3,300.4 L312.8,302.4" stroke-width="1.35"/>
<ellipse cx="322.7" cy="320.3" rx="8.6" ry="20.5" transform="rotate(-29 322.7 320.3)" fill="#fff" stroke-width="1.35" />
<ellipse cx="322.7" cy="320.3" rx="9.2" ry="22.0" transform="rotate(-29 322.7 320.3)" fill="#fff" stroke-width="1.35" />
<path d="M329.5,341.7 L333.4,339.6 L312.1,301.1 L308.1,303.3 Z" fill="#fff" stroke="none"/>
<path d="M329.5,341.7 L333.4,339.6 M312.1,301.1 L308.1,303.3" stroke-width="1.35"/>
<ellipse cx="318.8" cy="322.5" rx="9.2" ry="22.0" transform="rotate(-29 318.8 322.5)" fill="#fff" stroke-width="1.76" />
<ellipse cx="319.3" cy="323.0" rx="7.5" ry="17.5" transform="rotate(-29 319.3 323.0)" stroke-width="1.22" fill="none"/>
<ellipse cx="319.5" cy="323.8" rx="3.6" ry="7.8" transform="rotate(-29 319.5 323.8)" stroke-width="1.49" fill="none"/>
<ellipse cx="319.5" cy="323.8" rx="1.6" ry="3.6" transform="rotate(-29 319.5 323.8)" stroke-width="1.22" fill="none"/>
<circle cx="319.5" cy="323.8" r="0.8" fill="#1a1a1a" stroke="none"/>
<path d="M359.2,315 L380,304.2 L388.5,308 V317 L366.4,328.5 L359.2,325.6 Z" fill="#fff" stroke-width="1.49"/>
<path d="M359.2,315 L366.4,318.6 L388.5,308 M366.4,318.6 V328.5" stroke-width="1.35"/>
<!--/ISO1-->
<!--ISO2-->
<path d="M496.4,299.3 L547.1,329.3 L582.9,308.6 L582.9,300.5 L548,320.5 L497,291 Z" fill="#fff" stroke-width="1.49"/>
<path d="M497,291 L548,320.5 L582.9,300.5 L540,276 Z" fill="#fff" stroke-width="1.49"/>
<path d="M500,297 L546,324 M501,300.5 L546,327 M550,324 L580,307 M550,327 L580,310" stroke-width="1.22"/>
<path d="M503.5,295 V304 M508.5,297.5 V306.5 M542.5,318 V328 M550.5,318 V329 M571.5,305.5 V314 M577,302 V312" stroke-width="1.49"/>
<path d="M521,313 L524,315" stroke-width="2.03"/>
<path d="M502,297 L509,294 L545,315 L551,318.5 L547,321" stroke-width="2.43"/>
<ellipse cx="571.5" cy="235.0" rx="15.5" ry="26.5" transform="rotate(-29.6 571.5 235.0)" fill="#fff" stroke-width="1.89" />
<ellipse cx="571.0" cy="235.3" rx="14.6" ry="25.0" transform="rotate(-29.6 571.0 235.3)" fill="#fff" stroke-width="1.22" />
<ellipse cx="570.5" cy="235.5" rx="13.9" ry="23.8" transform="rotate(-29.6 570.5 235.5)" fill="#1a1a1a" stroke-width="1.35" />
<ellipse cx="569.5" cy="236.0" rx="10.0" ry="17.2" transform="rotate(-29.6 569.5 236.0)" fill="#fff" stroke-width="1.35" />
<path d="M558.0,235.7 L555.3,234.7 L554.1,228.7 L556.8,229.1 Z" fill="#fff" stroke="none"/>
<path d="M556.9,225.9 L554.4,223.1 L556.1,218.9 L558.8,221.2 Z" fill="#fff" stroke="none"/>
<path d="M560.6,219.7 L559.2,216.1 L563.2,215.2 L564.9,218.7 Z" fill="#fff" stroke="none"/>
<path d="M567.6,219.2 L567.9,216.2 L572.7,218.9 L572.9,222.2 Z" fill="#fff" stroke="none"/>
<path d="M575.5,224.7 L577.4,223.3 L581.2,228.7 L579.8,230.7 Z" fill="#fff" stroke="none"/>
<path d="M581.4,234.2 L584.1,234.9 L585.7,241.0 L583.1,241.0 Z" fill="#fff" stroke="none"/>
<path d="M583.2,244.2 L585.8,246.9 L584.5,251.5 L581.7,249.3 Z" fill="#fff" stroke="none"/>
<ellipse cx="556.7" cy="238.0" rx="12.0" ry="19.5" transform="rotate(24.8 556.7 238.0)" fill="#fff" stroke-width="1.49" />
<path d="M541.8,224.8 Q546,220 552,220" stroke-width="1.35"/>
<path d="M505,243 L511.4,232.1 L530.7,221.4 L541,224 L545,262 L553,314 L532,305 L505,290 Z" fill="#fff" stroke="none"/>
<path d="M511.4,232.1 L530.7,221.4 L536,224" stroke-width="1.35"/>
<path d="M503.7,233.5 L508.5,231 L514,233.5 V241.5 L509,244 L503.7,241.5 Z M503.7,233.5 L509,236 L514,233.5 M509,236 V244" fill="#fff" stroke-width="1.22"/>
<circle cx="506.3" cy="239.5" r="1" stroke-width="0.80"/>
<path d="M529.7,218.8 L534,216.5 L539,219 V223 L535,225.5 L529.7,223 Z M529.7,218.8 L535,221.3 L539,219 M535,221.3 V225.5" fill="#fff" stroke-width="1.22"/>
<path d="M514,236 L532,226.5 L545,232 M510,244 L520,240" stroke-width="1.35"/>
<path d="M512,238 L533,227 L538,229" stroke-width="1.35"/>
<path d="M522.9,255.3 L516.3,252.3 L540.3,263.3 L546.9,266.3 Z" fill="#fff" stroke-width="1.49"/>
<path d="M516.3,252.3 L515.5,242.1 L539.5,253.1 L540.3,263.3 Z" fill="#fff" stroke-width="1.49"/>
<path d="M515.5,242.1 L520.8,230.6 L544.8,241.6 L539.5,253.1 Z" fill="#fff" stroke-width="1.49"/>
<path d="M520.8,230.6 L529.1,224.7 L553.1,235.7 L544.8,241.6 Z" fill="#fff" stroke-width="1.49"/>
<path d="M555.2,260.4 L546.9,266.3 L540.3,263.3 L539.5,253.1 L544.8,241.6 L553.1,235.7 L559.7,238.7 L560.5,248.9 Z" fill="#fff" stroke-width="1.49"/>
<path d="M536.4,229.1 L560,240 M535,231.5 L558.5,242.5" stroke-width="1.35"/>
<path d="M532,265.7 L549.4,272.6 L549.4,285.5 L533.5,281.4 Z" fill="#1a1a1a" stroke="none"/>
<path d="M532.3,268.7 L549.4,275.6 M532.6,271.8 L549.4,278.6 M532.9,274.9 L549.4,281.6 M533.2,278 L549.4,284" stroke="#fff" stroke-width="0.57"/>
<path d="M532.9,284.3 V308 L548,316 L552.9,314 V290" fill="#fff" stroke-width="1.35"/>
<path d="M534.5,289 L539,291.5 V302 L534.5,299.5 Z M540,292 L543,293.5 V305 L540,303.5 Z" stroke-width="1.22"/>
<circle cx="547.1" cy="305.7" r="1.3" fill="#1a1a1a" stroke="none"/>
<path d="M588.8,228.6 L622,205.5 M589.8,231 L623,208" stroke-width="1.22"/>
<path d="M622,205.5 Q624.5,203.5 623.5,201" stroke-width="1.49"/>
<path d="M607,221.4 L597,242.8 M604.5,220 L594.5,241" stroke-width="1.22"/>
<path d="M584,232.8 V261.3 M588.5,232.8 V261.3 M594,240 V268.5 M598.5,240 V268.5" stroke-width="1.35"/>
<path d="M575,241 L581,244 V251 L575,248 Z" fill="#fff" stroke-width="1.35"/>
<path d="M593,240 Q596,236 599.5,240" stroke-width="2.03"/>
<path d="M580,238 L590,244 M579,245 L588,250" stroke-width="1.62"/>
<ellipse cx="515.5" cy="266.2" rx="13.5" ry="23.3" transform="rotate(-29.6 515.5 266.2)" fill="#fff" stroke-width="1.49" />
<ellipse cx="516.5" cy="265.8" rx="12.0" ry="21.0" transform="rotate(-29.6 516.5 265.8)" stroke-width="1.08" fill="none"/>
<path d="M489,264 L508,252 L521,281 L503,292 Z" fill="#fff" stroke="none"/>
<ellipse cx="502.0" cy="273.8" rx="10.3" ry="17.5" transform="rotate(-29.6 502.0 273.8)" fill="#fff" stroke-width="1.35" />
<path d="M491.5,262.5 L507.5,252.5 M504,291 L519,282.5" stroke-width="1.35"/>
<ellipse cx="496.7" cy="276.9" rx="12.4" ry="21.2" transform="rotate(-29.6 496.7 276.9)" fill="#fff" stroke-width="2.03" />
<ellipse cx="496.7" cy="276.9" rx="11.2" ry="19.8" transform="rotate(-29.6 496.7 276.9)" stroke-width="1.22" fill="none"/>
<ellipse cx="497.2" cy="276.9" rx="10.2" ry="18.5" transform="rotate(-29.6 497.2 276.9)" stroke-width="1.08" fill="none"/>
<ellipse cx="499.0" cy="276.3" rx="8.3" ry="15.3" transform="rotate(-29.6 499.0 276.3)" stroke-width="1.22" fill="none"/>
<ellipse cx="500.5" cy="275.6" rx="7.0" ry="13.5" transform="rotate(-29.6 500.5 275.6)" stroke-width="1.08" fill="none"/>
<path d="M603.5,271.7 L606,269.5 L628,281 L626.2,283.8 Z" fill="#fff" stroke-width="1.35"/>
<ellipse cx="555.9" cy="278.5" rx="12.8" ry="22.5" transform="rotate(204.8 555.9 278.5)" fill="#fff" stroke-width="1.35" />
<path d="M570.8,260.6 L565.4,258.0 L546.5,298.9 L552.0,301.4 Z" fill="#fff" stroke="none"/>
<path d="M570.8,260.6 L565.4,258.0 M546.5,298.9 L552.0,301.4" stroke-width="1.35"/>
<ellipse cx="561.4" cy="281.0" rx="12.8" ry="22.5" transform="rotate(204.8 561.4 281.0)" fill="#fff" stroke-width="1.35" />
<ellipse cx="561.4" cy="281.0" rx="13.4" ry="23.5" transform="rotate(204.8 561.4 281.0)" fill="#fff" stroke-width="1.35" />
<path d="M575.8,261.7 L571.3,259.6 L551.5,302.3 L556.1,304.4 Z" fill="#fff" stroke="none"/>
<path d="M575.8,261.7 L571.3,259.6 M551.5,302.3 L556.1,304.4" stroke-width="1.35"/>
<ellipse cx="565.9" cy="283.1" rx="13.4" ry="23.5" transform="rotate(204.8 565.9 283.1)" fill="#fff" stroke-width="1.49" />
<ellipse cx="565.9" cy="283.1" rx="12.5" ry="22.0" transform="rotate(204.8 565.9 283.1)" fill="#fff" stroke-width="1.35" />
<path d="M577.9,264.4 L575.2,263.1 L556.7,303.1 L559.4,304.3 Z" fill="#fff" stroke="none"/>
<path d="M577.9,264.4 L575.2,263.1 M556.7,303.1 L559.4,304.3" stroke-width="1.35"/>
<ellipse cx="568.7" cy="284.3" rx="12.5" ry="22.0" transform="rotate(204.8 568.7 284.3)" fill="#fff" stroke-width="1.35" />
<ellipse cx="568.7" cy="284.3" rx="13.1" ry="23.0" transform="rotate(204.8 568.7 284.3)" fill="#fff" stroke-width="1.35" />
<path d="M581.9,265.1 L578.3,263.5 L559.0,305.2 L562.6,306.9 Z" fill="#fff" stroke="none"/>
<path d="M581.9,265.1 L578.3,263.5 M559.0,305.2 L562.6,306.9" stroke-width="1.35"/>
<ellipse cx="572.3" cy="286.0" rx="13.1" ry="23.0" transform="rotate(204.8 572.3 286.0)" fill="#fff" stroke-width="1.49" />
<ellipse cx="572.3" cy="286.0" rx="12.0" ry="21.0" transform="rotate(204.8 572.3 286.0)" fill="#fff" stroke-width="1.35" />
<path d="M583.8,268.2 L581.1,267.0 L563.5,305.1 L566.2,306.3 Z" fill="#fff" stroke="none"/>
<path d="M583.8,268.2 L581.1,267.0 M563.5,305.1 L566.2,306.3" stroke-width="1.35"/>
<ellipse cx="575.0" cy="287.3" rx="12.0" ry="21.0" transform="rotate(204.8 575.0 287.3)" fill="#fff" stroke-width="1.35" />
<ellipse cx="575.0" cy="287.3" rx="12.5" ry="22.0" transform="rotate(204.8 575.0 287.3)" fill="#fff" stroke-width="1.35" />
<path d="M587.0,268.6 L584.2,267.3 L565.8,307.2 L568.5,308.5 Z" fill="#fff" stroke="none"/>
<path d="M587.0,268.6 L584.2,267.3 M565.8,307.2 L568.5,308.5" stroke-width="1.35"/>
<ellipse cx="577.7" cy="288.5" rx="12.5" ry="22.0" transform="rotate(204.8 577.7 288.5)" fill="#fff" stroke-width="1.35" />
<ellipse cx="577.7" cy="288.5" rx="10.1" ry="17.8" transform="rotate(204.8 577.7 288.5)" fill="#fff" stroke-width="1.35" />
<path d="M627.9,292.1 L585.2,272.4 L570.3,304.7 L612.9,324.4 Z" fill="#fff" stroke="none"/>
<path d="M627.9,292.1 L585.2,272.4 M570.3,304.7 L612.9,324.4" stroke-width="1.35"/>
<ellipse cx="620.4" cy="308.2" rx="10.1" ry="17.8" transform="rotate(204.8 620.4 308.2)" fill="#fff" stroke-width="1.35" />
<ellipse cx="620.4" cy="308.2" rx="12.4" ry="21.8" transform="rotate(204.8 620.4 308.2)" fill="#fff" stroke-width="1.35" />
<path d="M636.8,291.8 L629.5,288.5 L611.3,328.0 L618.5,331.4 Z" fill="#fff" stroke="none"/>
<path d="M636.8,291.8 L629.5,288.5 M611.3,328.0 L618.5,331.4" stroke-width="1.35"/>
<ellipse cx="627.7" cy="311.6" rx="12.4" ry="21.8" transform="rotate(204.8 627.7 311.6)" fill="#fff" stroke-width="1.62" />
<ellipse cx="627.7" cy="311.6" rx="11.7" ry="20.5" transform="rotate(204.8 627.7 311.6)" fill="#fff" stroke-width="1.35" />
<path d="M638.1,293.8 L636.3,293.0 L619.1,330.2 L620.9,331.1 Z" fill="#fff" stroke="none"/>
<path d="M638.1,293.8 L636.3,293.0 M619.1,330.2 L620.9,331.1" stroke-width="1.35"/>
<ellipse cx="629.5" cy="312.4" rx="11.7" ry="20.5" transform="rotate(204.8 629.5 312.4)" fill="#fff" stroke-width="1.35" />
<ellipse cx="629.5" cy="312.4" rx="12.4" ry="21.8" transform="rotate(204.8 629.5 312.4)" fill="#fff" stroke-width="1.35" />
<path d="M641.3,293.9 L638.6,292.7 L620.3,332.2 L623.1,333.5 Z" fill="#fff" stroke="none"/>
<path d="M641.3,293.9 L638.6,292.7 M620.3,332.2 L623.1,333.5" stroke-width="1.35"/>
<ellipse cx="632.2" cy="313.7" rx="12.4" ry="21.8" transform="rotate(204.8 632.2 313.7)" fill="#fff" stroke-width="1.76" />
<path d="M600,270.5 L603,268.5 L624,279 L621.5,281.5 Z" fill="#fff" stroke-width="1.35"/>
<ellipse cx="632.2" cy="313.7" rx="11.0" ry="19.0" transform="rotate(24.8 632.2 313.7)" stroke-width="1.22" fill="none"/>
<ellipse cx="632.4" cy="313.8" rx="4.5" ry="8.0" transform="rotate(24.8 632.4 313.8)" stroke-width="1.49" fill="none"/>
<ellipse cx="632.6" cy="313.8" rx="1.8" ry="2.8" transform="rotate(24.8 632.6 313.8)" stroke-width="1.22" fill="none"/>
<circle cx="632.6" cy="313.8" r="0.8" fill="#1a1a1a" stroke="none"/>
<!--/ISO2-->
<path d="M320.7,286 V350" stroke-width="0.80"/>
</g>
</svg>
</body></html>
